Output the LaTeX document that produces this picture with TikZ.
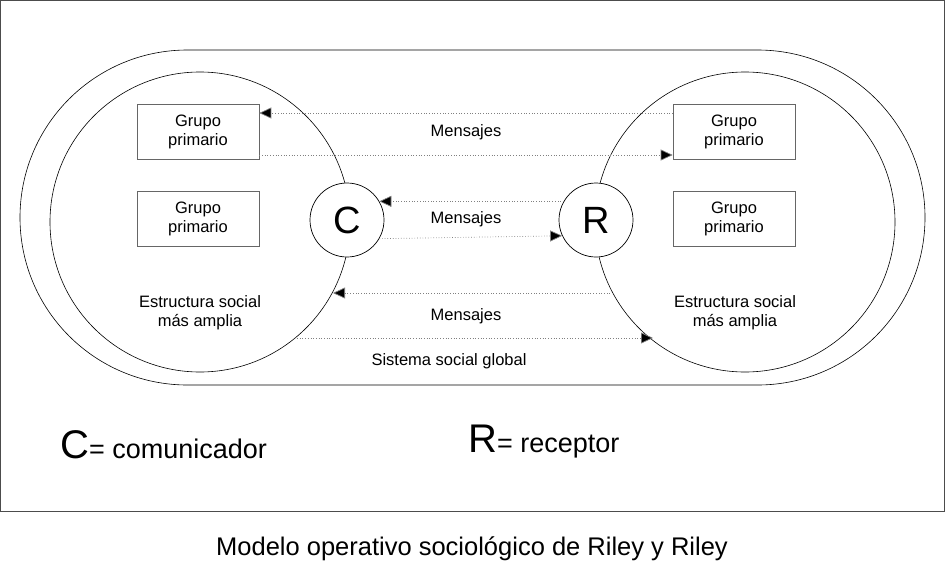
\documentclass[tikz,border=0pt]{standalone}
\usepackage{fontspec}
\setmainfont{Liberation Sans}
\usetikzlibrary{arrows.meta}
\begin{document}
\begin{tikzpicture}[x=1pt,y=-1pt,
  box/.style={draw=black!60,line width=0.6pt,minimum width=122pt,minimum height=55pt,align=center,font=\fontsize{16.5}{19}\selectfont},
  rc/.style={draw,line width=0.7pt,circle,minimum size=74pt,inner sep=0pt,fill=white,font=\fontsize{38}{40}\selectfont},
  msg/.style={draw=black!50,dotted,line width=0.7pt,-{Triangle[length=12pt,width=11pt,fill=black]}},
  lbl/.style={font=\fontsize{16.5}{19}\selectfont,align=center}]
\useasboundingbox (0,0) rectangle (945,565);
\draw[black!70,line width=0.6pt] (0.5,0.5) rectangle (944.5,511);
\draw[line width=0.6pt,rounded corners=167.4pt] (20,50) rectangle (925,385);
\draw[line width=0.6pt] (200,222) circle[radius=150];
\draw[line width=0.6pt] (745,222) circle[radius=150];
\node[box] (g1) at (198,132) {Grupo\\primario};
\node[box] (g2) at (198,219) {Grupo\\primario};
\node[box] (g3) at (734,132) {Grupo\\primario};
\node[box] (g4) at (734,219) {Grupo\\primario};
\node[rc] (C) at (347,220) {C};
\node[rc] (R) at (596,220) {R};
\coordinate (a5s) at (610,293); \coordinate (a5e) at (333,293);
\coordinate (a6s) at (297,338); \coordinate (a6e) at (653,338);
\draw[msg] (g3.west|-0,113) -- (g1.east|-0,113);
\draw[msg] (g1.east|-0,155) -- (g3.west|-0,155);
\draw[msg] (R.150) -- (C.30);
\draw[msg] (C.-30) -- (R.205);
\draw[msg] (a5s) -- (a5e);
\draw[msg] (a6s) -- (a6e);
\node[lbl] (m1) at (466,132) {Mensajes};
\node[lbl] (m2) at (466,219) {Mensajes};
\node[lbl] (m3) at (466,316) {Mensajes};
\node[lbl] (ss) at (449,361) {Sistema social global};
\node[lbl] (e1) at (200,313) {Estructura social\\más amplia};
\node[lbl] (e2) at (735,313) {Estructura social\\más amplia};
\node[anchor=west,inner sep=0pt] (lc) at (60,445) {{\fontsize{40}{42}\selectfont C}{\fontsize{27}{30}\selectfont= comunicador}};
\node[anchor=west,inner sep=0pt] (lr) at (468,442) {{\fontsize{40}{42}\selectfont R}{\fontsize{27}{30}\selectfont= receptor}};
\node[font=\fontsize{25.5}{28}\selectfont] (cap) at (472,549) {Modelo operativo sociológico de Riley y Riley};
\end{tikzpicture}
\end{document}
